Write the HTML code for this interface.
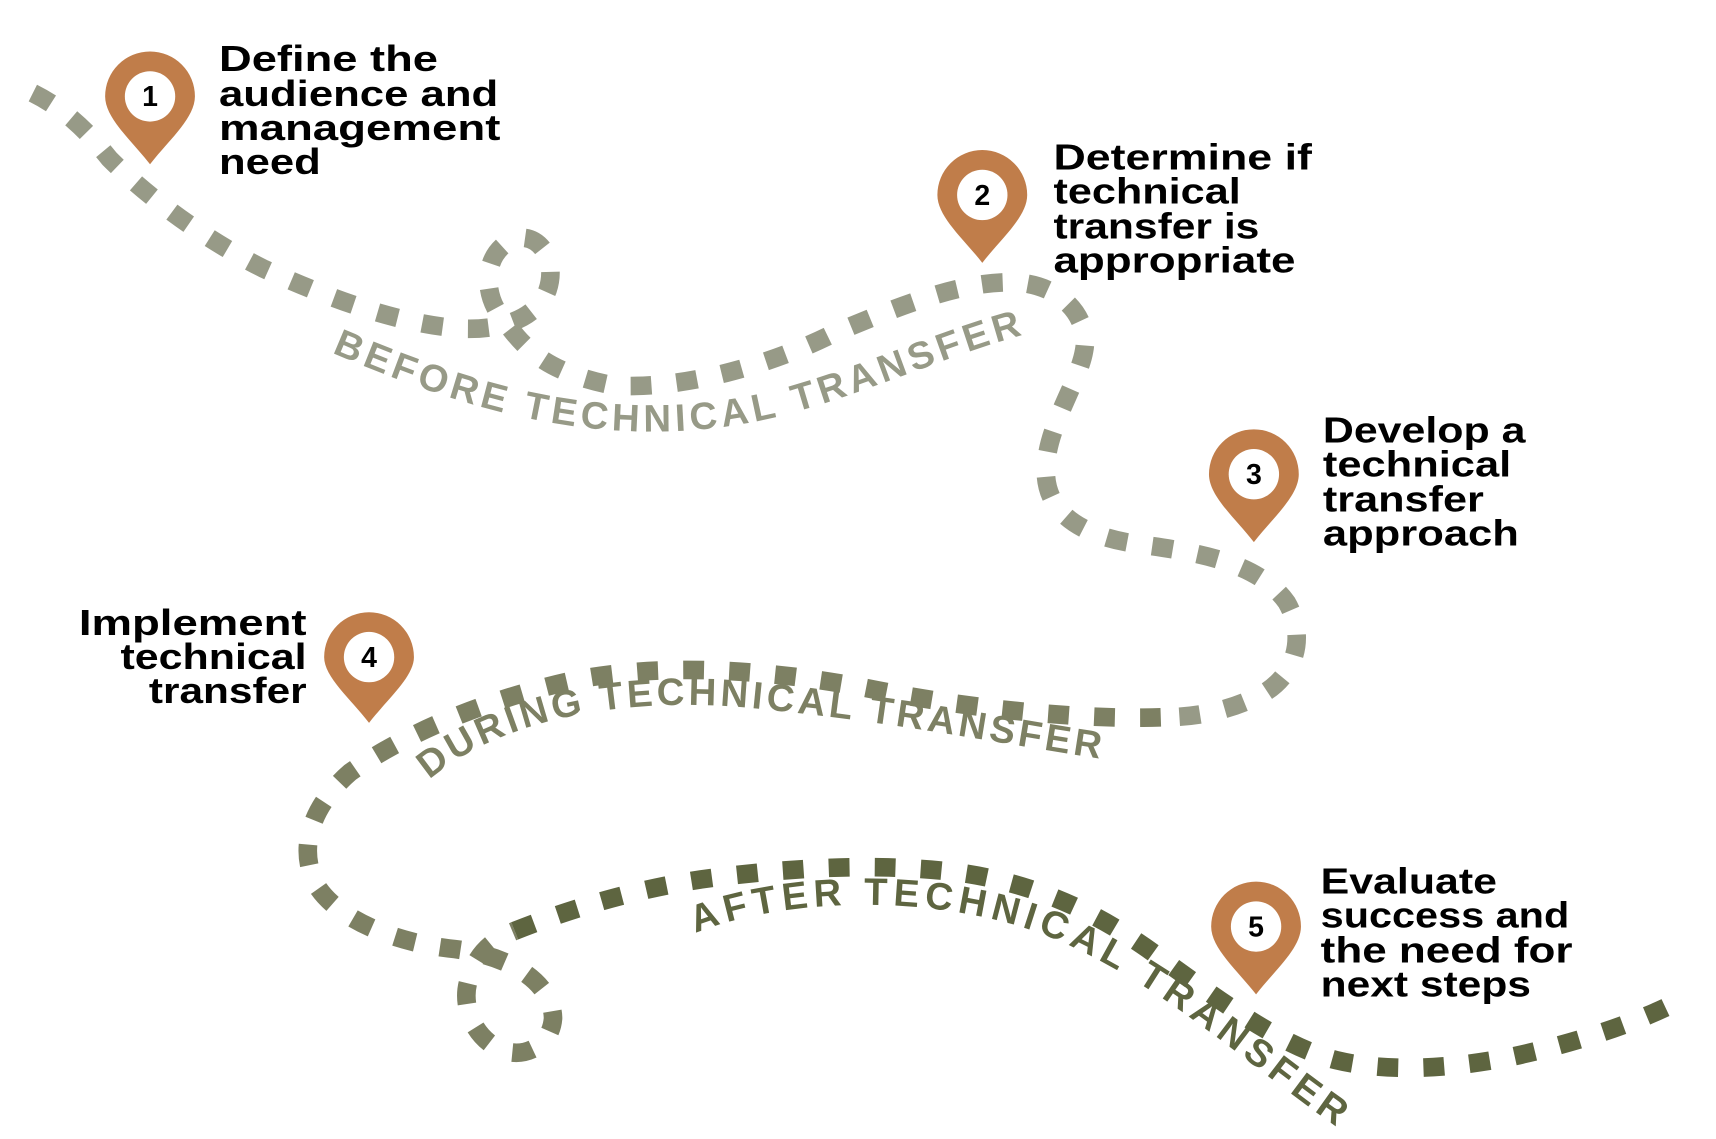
<!DOCTYPE html>
<html><head><meta charset="utf-8"><style>
html,body{margin:0;padding:0;background:#fff;}
svg{display:block;}
.lbl{font-family:"Liberation Sans",sans-serif;font-weight:bold;font-size:33px;fill:#000;}
.arc{font-family:"Liberation Sans",sans-serif;font-size:35px;font-weight:bold;}
</style></head><body>
<svg width="1716" height="1139" viewBox="0 0 1567 1040" preserveAspectRatio="none" xmlns="http://www.w3.org/2000/svg">
<defs>
<path id="pBefore" d="M303,322 C420,372 560,420 720,378 C800,356 870,322 945,303"/>
<path id="pDuring" d="M392,712 C450,662 560,632 700,648 C820,660 920,680 1000,692"/>
<path id="pAfter" d="M635,852 C720,818 860,816 960,856 C1060,898 1130,965 1215,1025 L1300,1085"/>
</defs>
<g fill="none" stroke-width="17" stroke-dasharray="19 23">
<path stroke="#979a87" d="M30,85 C60,100 80,120 100,145 C130,175 180,215 240,245 C300,272 360,295 420,300 C460,302 490,290 500,265 C510,235 490,212 470,218 C440,230 440,270 460,292 C480,320 500,340 560,352 C620,356 700,335 760,305 C820,280 880,255 930,258 C975,262 995,295 990,320 C985,350 955,390 955,430 C955,470 990,490 1040,497 C1100,505 1150,515 1175,550 C1195,585 1180,620 1150,635 C1120,650 1090,655 1060,655"/>
<path stroke="#7d8063" d="M1060,655 C1000,657 900,650 800,630 C700,610 600,605 520,622 C440,640 370,670 320,705 C285,735 270,775 290,810 C310,840 360,860 410,866 C470,872 505,900 505,930 C503,955 480,965 462,960 C435,952 420,920 428,895 C435,870 450,858 470,850"/>
<path stroke="#5e6540" d="M470,850 C520,830 580,812 640,803 C720,792 800,788 870,796 C950,806 1010,838 1060,875 C1120,918 1170,955 1220,968 C1270,980 1330,975 1380,965 C1440,952 1490,935 1525,918"/>
</g>
<text class="arc" fill="#979a87"><textPath href="#pBefore" textLength="655" lengthAdjust="spacing">BEFORE TECHNICAL TRANSFER</textPath></text>
<text class="arc" fill="#7d8063"><textPath href="#pDuring" textLength="630" lengthAdjust="spacing">DURING TECHNICAL TRANSFER</textPath></text>
<text class="arc" fill="#5e6540"><textPath href="#pAfter" textLength="645" lengthAdjust="spacing">AFTER TECHNICAL TRANSFER</textPath></text>
<g fill="#c07d4a">
<path d="M137,150 C120,128 96,108 96,88 A41,41 0 1 1 178,88 C178,108 154,128 137,150 Z"/>
<path d="M897,240 C880,218 856,198 856,178 A41,41 0 1 1 938,178 C938,198 914,218 897,240 Z"/>
<path d="M1145,495 C1128,473 1104,453 1104,433 A41,41 0 1 1 1186,433 C1186,453 1162,473 1145,495 Z"/>
<path d="M337,660 C320,638 296,618 296,600 A41,41 0 1 1 378,600 C378,618 354,638 337,660 Z"/>
<path d="M1147,908 C1130,886 1106,866 1106,846 A41,41 0 1 1 1188,846 C1188,866 1164,886 1147,908 Z"/>
</g>
<g fill="#fff">
<circle cx="137" cy="88" r="23"/><circle cx="897" cy="178" r="23"/><circle cx="1145" cy="433" r="23"/><circle cx="337" cy="600" r="23"/><circle cx="1147" cy="846" r="23"/>
</g>
<g font-family="Liberation Sans,sans-serif" font-weight="bold" font-size="26" text-anchor="middle" fill="#000">
<text x="137" y="97">1</text><text x="897" y="187">2</text><text x="1145" y="442">3</text><text x="337" y="609">4</text><text x="1147" y="855">5</text>
</g>
<g class="lbl">
<text x="200" y="65" textLength="200" lengthAdjust="spacingAndGlyphs">Define the</text>
<text x="200" y="97" textLength="255" lengthAdjust="spacingAndGlyphs">audience and</text>
<text x="200" y="128" textLength="257" lengthAdjust="spacingAndGlyphs">management</text>
<text x="200" y="159" textLength="93" lengthAdjust="spacingAndGlyphs">need</text>
<text x="962" y="155" textLength="236" lengthAdjust="spacingAndGlyphs">Determine if</text>
<text x="962" y="186" textLength="171" lengthAdjust="spacingAndGlyphs">technical</text>
<text x="962" y="218" textLength="188" lengthAdjust="spacingAndGlyphs">transfer is</text>
<text x="962" y="249" textLength="221" lengthAdjust="spacingAndGlyphs">appropriate</text>
<text x="1208" y="404" textLength="185" lengthAdjust="spacingAndGlyphs">Develop a</text>
<text x="1208" y="435" textLength="172" lengthAdjust="spacingAndGlyphs">technical</text>
<text x="1208" y="467" textLength="147" lengthAdjust="spacingAndGlyphs">transfer</text>
<text x="1208" y="498" textLength="179" lengthAdjust="spacingAndGlyphs">approach</text>
<text x="72" y="580" textLength="208" lengthAdjust="spacingAndGlyphs">Implement</text>
<text x="110" y="611" textLength="170" lengthAdjust="spacingAndGlyphs">technical</text>
<text x="136" y="642" textLength="144" lengthAdjust="spacingAndGlyphs">transfer</text>
<text x="1206" y="816" textLength="161" lengthAdjust="spacingAndGlyphs">Evaluate</text>
<text x="1206" y="847" textLength="227" lengthAdjust="spacingAndGlyphs">success and</text>
<text x="1206" y="879" textLength="230" lengthAdjust="spacingAndGlyphs">the need for</text>
<text x="1206" y="910" textLength="192" lengthAdjust="spacingAndGlyphs">next steps</text>
</g>
</svg>
</body></html>
